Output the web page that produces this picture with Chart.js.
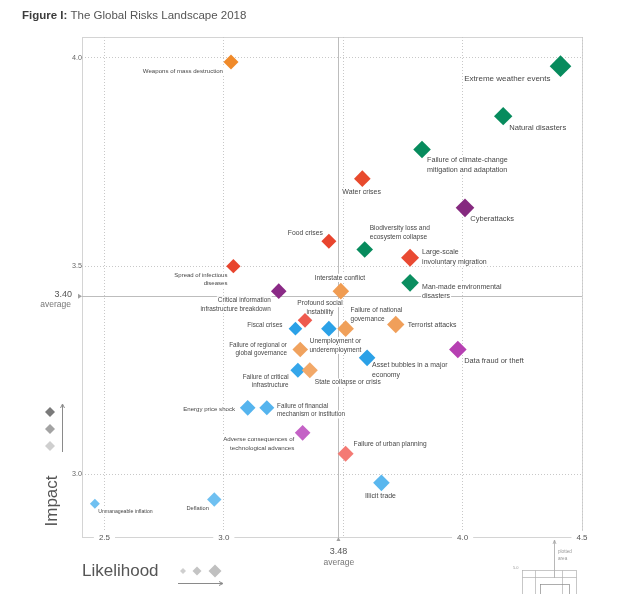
<!DOCTYPE html>
<html>
<head>
<meta charset="utf-8">
<script src="https://cdn.jsdelivr.net/npm/chart.js@4.4.1/dist/chart.umd.min.js"></script>
<style>
  html, body { margin: 0; padding: 0; background: #fff; }
  #wrap { position: relative; width: 640px; height: 594px; }
</style>
</head>
<body>
<div id="wrap"><canvas id="risks" width="640" height="594"></canvas></div>
<script>
// ---- data ----
const risks = [
  'Weapons of mass destruction',
  'Extreme weather events',
  'Natural disasters',
  'Failure of climate-change\nmitigation and adaptation',
  'Water crises',
  'Cyberattacks',
  'Food crises',
  'Biodiversity loss and\necosystem collapse',
  'Spread of infectious\ndiseases',
  'Large-scale\ninvoluntary migration',
  'Man-made environmental\ndisasters',
  'Interstate conflict',
  'Critical information\ninfrastructure breakdown',
  'Profound social\ninstability',
  'Fiscal crises',
  'Unemployment or\nunderemployment',
  'Failure of national\ngovernance',
  'Terrorist attacks',
  'Data fraud or theft',
  'Failure of regional or\nglobal governance',
  'Asset bubbles in a major\neconomy',
  'Failure of critical\ninfrastructure',
  'State collapse or crisis',
  'Energy price shock',
  'Failure of financial\nmechanism or institution',
  'Adverse consequences of\ntechnological advances',
  'Failure of urban planning',
  'Illicit trade',
  'Unmanageable inflation',
  'Deflation'
];
const likelihood = [3.03, 4.41, 4.17, 3.83, 3.58, 4.01, 3.44, 3.59, 3.04, 3.78,
  3.78, 3.49, 3.23, 3.34, 3.30, 3.44, 3.51, 3.72, 3.98, 3.32,
  3.60, 3.31, 3.36, 3.10, 3.18, 3.33, 3.51, 3.66, 2.46, 2.96];
const impact = [3.99, 3.98, 3.86, 3.78, 3.71, 3.64, 3.56, 3.54, 3.50, 3.52,
  3.46, 3.44, 3.44, 3.37, 3.35, 3.35, 3.35, 3.36, 3.30, 3.30,
  3.28, 3.25, 3.25, 3.16, 3.16, 3.10, 3.05, 2.98, 2.93, 2.94];
const xTicks = [2.5, 3.0, 3.5, 4.0, 4.5];
const xTickLabels = ['2.5', '3.0', '', '4.0', '4.5'];   // 3.5 gives way to the average marker
const yTicks = [3.0, 3.5, 4.0];
const avgLikelihood = 3.48;
const avgImpact = 3.428;       // where the line is drawn in the figure
const avgLikelihoodText = '3.48';
const avgImpactText = '3.40';

// ---- styles ----
const FONT = '"Liberation Sans", Arial, Helvetica, sans-serif';
Chart.defaults.font.family = FONT;

const pointColors = [
  '#f08a2a', '#078b5d', '#078b5d', '#078b5d', '#e84a2d', '#85297f', '#e8452e', '#078b5d',
  '#e8452e', '#e94a33', '#0b8e60', '#f09c52', '#8a2a86', '#ee5a4e', '#2ba1e7', '#2ba1e7',
  '#f0a05a', '#f09f5a', '#b640b2', '#f0a25e', '#2ba1e7', '#35a6ea', '#f2a868', '#55b4ee',
  '#55b4ee', '#c462c6', '#f47a74', '#5ab7ee', '#6fc0f1', '#6fc0f1'
];
const pointSizes = [7.5, 10.8, 9.2, 8.8, 8.3, 9.3, 7.5, 8.3, 7.2, 9, 8.8, 8.3, 7.8, 7.3, 6.8,
  7.8, 8.3, 8.7, 8.8, 7.8, 8.3, 7.5, 8, 7.8, 7.5, 7.8, 8, 8.3, 5, 7.2];
// [dx, dy of first line, align, font size] relative to the diamond
const labelLayout = [
  [-8, 9, 'right', 6.1], [-10, 12.4, 'right', 8], [6, 11.7, 'left', 7.6], [5, 11, 'left', 7.2],
  [-20, 13.7, 'left', 7], [5.3, 11, 'left', 7.5], [-6, -8.4, 'right', 6.8], [5, -21, 'left', 6.6],
  [-6, 9.2, 'right', 6], [12, -5.6, 'left', 7], [12, 4, 'left', 7], [-1, -13.3, 'center', 6.7],
  [-8, 9, 'right', 6.4], [15, -17.3, 'center', 6.6], [-13, -3, 'right', 6.4], [6.5, 12.3, 'center', 6.5],
  [5, -18, 'left', 6.5], [12, 1, 'left', 6.9], [6.3, 11, 'left', 7.4], [-13.3, -4.6, 'right', 6.3],
  [5, 7.3, 'left', 6.9], [-9.3, 6.7, 'right', 6.3], [5, 12.3, 'left', 6.6], [-12.7, 1, 'right', 6.1],
  [10.3, -2, 'left', 6.3], [-8.3, 6.7, 'right', 6.2], [8, -9, 'left', 6.6], [-1, 13.4, 'center', 6.9],
  [3.3, 7.7, 'left', 5.2], [-5.4, 8.7, 'right', 5.7]
];

function labelLines(chart, i) {
  const p = chart.getDatasetMeta(0).data[i];
  const [dx, dy, align, size] = labelLayout[i];
  const ctx = chart.ctx;
  ctx.font = size + 'px ' + FONT;
  return risks[i].split('\n').map((t, k) => {
    const w = ctx.measureText(t).width;
    const x = p.x + dx;
    const left = align === 'right' ? x - w : align === 'center' ? x - w / 2 : x;
    return { t, x, y: p.y + dy + k * size * 1.38, w, left, size, align };
  });
}

function diamond(ctx, x, y, r, color) {
  ctx.fillStyle = color;
  ctx.beginPath();
  ctx.moveTo(x, y - r); ctx.lineTo(x + r, y); ctx.lineTo(x, y + r); ctx.lineTo(x - r, y);
  ctx.closePath(); ctx.fill();
}

const decorations = {
  id: 'decorations',
  beforeDraw(chart) {
    const { ctx, chartArea: a } = chart;
    ctx.save();
    ctx.fillStyle = '#fff';
    ctx.fillRect(0, 0, chart.width, chart.height);
    ctx.strokeStyle = '#d4d4d4';
    ctx.lineWidth = 1;
    ctx.strokeRect(a.left + 0.5, a.top + 0.5, a.right - a.left, a.bottom - a.top);
    ctx.restore();
  },
  beforeDatasetsDraw(chart) {
    const { ctx, chartArea: a, scales: { x, y } } = chart;
    const ax = Math.round(x.getPixelForValue(avgLikelihood)) + 0.5;
    const ay = Math.round(y.getPixelForValue(avgImpact)) + 0.5;
    ctx.save();
    ctx.strokeStyle = '#bdbdbd';
    ctx.lineWidth = 1;
    ctx.beginPath();
    ctx.moveTo(ax, a.top); ctx.lineTo(ax, a.bottom);
    ctx.moveTo(a.left, ay); ctx.lineTo(a.right, ay);
    ctx.stroke();
    // likelihood tick labels sit on the bottom line, each in a white gap
    ctx.font = '8px ' + FONT;
    ctx.textAlign = 'center';
    ctx.textBaseline = 'middle';
    x.ticks.forEach((t, i) => {
      const lbl = xTickLabels[i];
      if (!lbl) return;
      const px = x.getPixelForValue(t.value);
      const w = ctx.measureText(lbl).width;
      ctx.fillStyle = '#fff';
      ctx.fillRect(px - w / 2 - 5, a.bottom - 6, w + 10, 10);
      ctx.fillStyle = '#555';
      ctx.fillText(lbl, px, a.bottom + 0.5);
    });
    // white knock-outs behind the risk labels
    ctx.fillStyle = '#fff';
    risks.forEach((r, i) => {
      labelLines(chart, i).forEach(l => {
        ctx.fillRect(l.left - 1, l.y - l.size * 0.62, l.w + 2, l.size * 1.24);
      });
    });
    ctx.restore();
  },
  afterDatasetsDraw(chart) {
    const ctx = chart.ctx;
    ctx.save();
    ctx.fillStyle = '#474747';
    ctx.textBaseline = 'middle';
    risks.forEach((r, i) => {
      labelLines(chart, i).forEach(l => {
        ctx.font = l.size + 'px ' + FONT;
        ctx.textAlign = l.align;
        ctx.fillText(l.t, l.x, l.y);
      });
    });
    ctx.restore();
  },
  afterDraw(chart) {
    const { ctx, chartArea: a, scales: { x, y } } = chart;
    const ax = x.getPixelForValue(avgLikelihood);
    const ay = y.getPixelForValue(avgImpact);
    ctx.save();
    // title
    ctx.textBaseline = 'alphabetic';
    ctx.textAlign = 'left';
    ctx.fillStyle = '#3c3c3c';
    ctx.font = 'bold 11.5px ' + FONT;
    ctx.fillText('Figure I:', 22, 19);
    const w = ctx.measureText('Figure I: ').width;
    ctx.font = '11.5px ' + FONT;
    ctx.fillStyle = '#555';
    ctx.fillText('The Global Risks Landscape 2018', 22 + w, 19);

    // average markers
    ctx.fillStyle = '#a0a0a0';
    ctx.beginPath();
    ctx.moveTo(78, ay - 2.5); ctx.lineTo(82, ay); ctx.lineTo(78, ay + 2.5); ctx.closePath(); ctx.fill();
    ctx.beginPath();
    ctx.moveTo(ax - 2, a.bottom + 4); ctx.lineTo(ax, a.bottom); ctx.lineTo(ax + 2, a.bottom + 4); ctx.closePath(); ctx.fill();

    ctx.textBaseline = 'middle';
    ctx.textAlign = 'right';
    ctx.fillStyle = '#555';
    ctx.font = '9px ' + FONT;
    ctx.fillText(avgImpactText, 72, ay - 2);
    ctx.fillStyle = '#777';
    ctx.font = '8.5px ' + FONT;
    ctx.fillText('average', 71, ay + 8.5);
    ctx.textAlign = 'center';
    ctx.fillStyle = '#555';
    ctx.font = '9px ' + FONT;
    ctx.fillText(avgLikelihoodText, ax, 551.5);
    ctx.fillStyle = '#777';
    ctx.font = '8.5px ' + FONT;
    ctx.fillText('average', ax + 0.5, 563);

    // axis titles
    ctx.fillStyle = '#555';
    ctx.font = '17px ' + FONT;
    ctx.textAlign = 'left';
    ctx.textBaseline = 'alphabetic';
    ctx.fillText('Likelihood', 82, 576);
    ctx.save();
    ctx.translate(57, 501);
    ctx.rotate(-Math.PI / 2);
    ctx.textAlign = 'center';
    ctx.fillText('Impact', 0, 0);
    ctx.restore();

    // size / shade keys
    diamond(ctx, 50, 412, 5, '#7a7a7a');
    diamond(ctx, 50, 429, 5, '#a3a3a3');
    diamond(ctx, 50, 446, 5, '#cfcfcf');
    diamond(ctx, 183, 571, 3, '#cfcfcf');
    diamond(ctx, 197, 571, 4.5, '#c4c4c4');
    diamond(ctx, 215, 571, 6.5, '#c0c0c0');
    ctx.strokeStyle = '#8a8a8a';
    ctx.lineWidth = 1;
    ctx.beginPath();
    ctx.moveTo(62.5, 452); ctx.lineTo(62.5, 405);
    ctx.moveTo(60.5, 408); ctx.lineTo(62.5, 404); ctx.lineTo(64.5, 408);
    ctx.moveTo(178, 583.5); ctx.lineTo(222, 583.5);
    ctx.moveTo(219, 581.5); ctx.lineTo(223, 583.5); ctx.lineTo(219, 585.5);
    ctx.stroke();

    // plotted-area inset
    ctx.strokeStyle = '#9a9a9a';
    ctx.lineWidth = 0.7;
    ctx.beginPath();
    ctx.moveTo(554.5, 578); ctx.lineTo(554.5, 541);
    ctx.moveTo(553, 544); ctx.lineTo(554.5, 540); ctx.lineTo(556, 544);
    ctx.stroke();
    ctx.strokeStyle = '#b0b0b0';
    ctx.strokeRect(522.5, 570.5, 54, 30);
    ctx.beginPath();
    ctx.moveTo(535.5, 570.5); ctx.lineTo(535.5, 600);
    ctx.moveTo(562.5, 570.5); ctx.lineTo(562.5, 600);
    ctx.moveTo(522.5, 577.5); ctx.lineTo(576.5, 577.5);
    ctx.stroke();
    ctx.strokeStyle = '#8a8a8a';
    ctx.strokeRect(540.5, 584.5, 29, 20);
    ctx.fillStyle = '#999';
    ctx.textAlign = 'left';
    ctx.textBaseline = 'middle';
    ctx.font = '4.6px ' + FONT;
    ctx.fillText('plotted', 558, 552);
    ctx.fillText('area', 558, 559);
    ctx.font = '4px ' + FONT;
    ctx.fillText('5.0', 513, 568);
    ctx.restore();
  }
};

new Chart(document.getElementById('risks'), {
  type: 'scatter',
  data: {
    datasets: [{
      data: risks.map((r, i) => ({ x: likelihood[i], y: impact[i] })),
      pointStyle: 'rectRot',
      pointRadius: pointSizes,
      pointHoverRadius: pointSizes,
      backgroundColor: pointColors,
      pointBorderWidth: 0,
      borderWidth: 0
    }]
  },
  options: {
    responsive: false,
    animation: false,
    events: [],
    layout: { padding: { top: 37, right: 58, left: 0, bottom: 0 } },
    plugins: { legend: { display: false }, tooltip: { enabled: false } },
    scales: {
      x: {
        type: 'linear',
        min: 2.406,
        max: 4.5,
        afterBuildTicks: s => { s.ticks = xTicks.map(v => ({ value: v })); },
        afterFit: s => { s.height = 57; },
        grid: { color: '#c8c8c8', drawTicks: false, lineWidth: 1 },
        border: { display: false, dash: [1, 2] },
        ticks: { display: false }
      },
      y: {
        type: 'linear',
        min: 2.85,
        max: 4.05,
        afterBuildTicks: s => { s.ticks = yTicks.map(v => ({ value: v })); },
        afterFit: s => { s.width = 82; },
        grid: { color: '#c8c8c8', drawTicks: false, lineWidth: 1 },
        border: { display: false, dash: [1, 2] },
        ticks: {
          padding: 0,
          color: '#666',
          font: { size: 7.2 },
          callback: v => v.toFixed(1),
          showLabelBackdrop: true,
          backdropColor: '#fff',
          backdropPadding: { x: 2, y: 1 }
        }
      }
    }
  },
  plugins: [decorations]
});
</script>
</body>
</html>
